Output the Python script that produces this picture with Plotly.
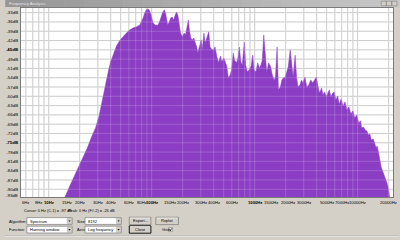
import math
import plotly.graph_objects as go

# ---------------- data ----------------
freq_hz = [13.0, 14.4, 16.2, 19.0, 21.1, 23.7, 26.3, 28.5, 30.7, 32.7,
           34.2, 36.2, 38.2, 39.9, 42.7, 45.6, 49.4, 53.2, 56.8, 60.7,
           66.2, 70.8, 76.8, 79.0, 82.6, 86.3, 89.2, 92.2, 95.3, 98.4,
           103, 107.6, 114.9, 120, 124, 128.2, 133, 137, 140, 143.2,
           148, 153, 158, 163.4, 169.5, 174.5, 180.3, 185.2, 190.6, 199,
           206.8, 212.9, 219.9, 227.3, 232.3, 240, 248, 256.5, 265.5, 274,
           280, 289.5, 302.5, 309.5, 321.5, 330.5, 345, 358.5, 369, 385.5,
           400, 412, 430.5, 446.5, 464.5, 480, 501, 518.5, 535.5, 556,
           578, 597, 620, 637, 666, 688, 710, 734, 758, 793,
           819, 846, 884, 923, 958, 986, 1030, 1069, 1112, 1149,
           1186, 1226, 1267, 1309, 1368, 1429, 1483, 1542, 1593, 1652,
           1702, 1778, 1837, 1898, 1985, 2051, 2119, 2214, 2286, 2364,
           2471, 2552, 2637, 2754, 2849, 2943, 3076, 3214, 3358, 3508,
           3665, 3829, 3973, 4131, 4272, 4463, 4613, 4766, 4979, 5143,
           5314, 5490, 5672, 5926, 6148, 6394, 6615, 6911, 7217, 7539,
           7876, 8228, 8596, 8980, 9381, 9799, 10237, 10695, 10918, 11406,
           11833, 12303, 12706, 13152, 13586, 14193, 14723, 15136, 15488, 15849,
           16444, 16904, 17665, 18357, 19093, 19727, 20463, 21040, 22050]

level_db = [-100, -92.5, -88.6, -83.8, -80.5, -76.7, -72.8, -70.2, -66.7, -62.1,
            -58.9, -54.7, -51.5, -48.9, -46.0, -43.7, -41.8, -40.5, -39.6, -38.7,
            -37.9, -37.6, -37.0, -36.0, -34.7, -32.8, -32.0, -31.8, -32.3, -33.7,
            -36.3, -37.0, -37.1, -35.7, -34.1, -32.8, -32.1, -33.4, -35.4, -37.0,
            -36.0, -34.7, -34.4, -35.4, -33.7, -32.8, -34.1, -36.3, -39.6, -40.8,
            -39.6, -40.2, -37.9, -35.4, -38.6, -41.2, -41.8, -41.2, -42.8, -44.1,
            -46.0, -44.1, -41.8, -45.0, -39.6, -42.8, -40.5, -39.2, -44.1, -45.0,
            -45.0, -44.1, -47.3, -49.2, -47.0, -48.9, -47.6, -48.9, -50.2, -54.1,
            -53.1, -51.5, -46.0, -48.3, -49.2, -47.6, -44.1, -48.9, -49.9, -42.5,
            -49.9, -52.1, -51.5, -50.2, -46.7, -51.5, -52.1, -49.2, -50.9, -49.9,
            -48.3, -40.2, -47.6, -52.1, -49.2, -50.5, -53.1, -54.7, -53.8, -44.1,
            -57.9, -57.0, -54.7, -54.1, -53.8, -52.1, -50.5, -45.0, -49.2, -53.8,
            -46.7, -53.8, -57.0, -56.3, -54.7, -55.7, -53.8, -57.0, -56.3, -54.7,
            -55.7, -54.4, -53.8, -57.0, -58.9, -57.3, -59.6, -58.6, -60.2, -58.9,
            -57.9, -60.2, -59.2, -58.6, -61.2, -59.9, -62.5, -60.9, -63.1, -61.8,
            -64.4, -63.4, -65.7, -64.7, -67.0, -66.0, -68.6, -67.9, -70.2, -69.9,
            -70.9, -71.2, -72.5, -72.2, -74.1, -73.8, -75.1, -76.7, -76.0, -78.3,
            -80.5, -82.8, -84.4, -86.0, -87.6, -89.3, -92.5, -98, -110]

y_tick_db = [-33, -36, -39, -42, -45, -48, -51, -54, -57, -60,
             -63, -66, -69, -72, -75, -78, -81, -84, -87, -90]
y_tick_text = ["-33dB", "-36dB", "-39dB", "-42dB", "<b>-45dB</b>", "-48dB", "-51dB",
               "-54dB", "-57dB", "-60dB", "-63dB", "-66dB", "-69dB", "-72dB",
               "<b>-75dB</b>", "-78dB", "-81dB", "-84dB", "-87dB", "-90dB"]

x_tick_hz = [6, 8, 10, 15, 20, 30, 40, 60, 80, 100, 150, 200, 300, 400, 600,
             1000, 1500, 2000, 3000, 5000, 7000, 10000, 20000]
x_tick_text = ["6Hz", "8Hz", "<b>10Hz</b>", "15Hz", "20Hz", "30Hz", "40Hz", "60Hz",
               "80Hz", "<b>100Hz</b>", "150Hz", "200Hz", "300Hz", "400Hz", "600Hz",
               "<b>1000Hz</b>", "1500Hz", "2000Hz", "3000Hz", "5000Hz", "7000Hz",
               "10000Hz", "20000Hz"]

grid_hz = [6, 7, 8, 9, 10, 20, 30, 40, 50, 60, 70, 80, 90, 100, 200, 300, 400, 500,
           600, 700, 800, 900, 1000, 2000, 3000, 4000, 5000, 6000, 7000, 8000, 9000,
           10000, 20000]

f_min, f_max = 5.383, 22050
db_lo, db_hi = -92.5, -31.5
floor_db = -200

# ---------------- figure ----------------
FONT = "Liberation Sans"
W, H = 400, 240
ML, MR, MT, MB = 16, 6, 8, 43
PW, PH = W - ML - MR, H - MT - MB


def px(x):
    return (x - ML) / PW


def py(y):
    return (H - MB - y) / PH


def grid_xy(hz_list, db_list):
    gx, gy = [], []
    for h in hz_list:
        gx += [h, h, None]
        gy += [floor_db, 0, None]
    for d in db_list:
        gx += [1, 30000, None]
        gy += [d, d, None]
    return gx, gy


gx, gy = grid_xy(grid_hz, y_tick_db)

fig = go.Figure()
fig.add_trace(go.Scatter(x=gx, y=gy, mode="lines", line=dict(color="#c4c4c4", width=1),
                         hoverinfo="skip", showlegend=False))
fig.add_trace(go.Scatter(x=[f_min, f_max], y=[floor_db, floor_db], mode="lines",
                         line=dict(width=0), hoverinfo="skip", showlegend=False))
fig.add_trace(go.Scatter(x=freq_hz, y=level_db, mode="lines", fill="tonexty",
                         fillcolor="rgb(139,61,196)", line=dict(color="rgb(139,61,196)", width=0.5),
                         showlegend=False))
fig.add_trace(go.Scatter(x=gx, y=gy, mode="lines",
                         line=dict(color="rgba(255,255,255,0.18)", width=1),
                         hoverinfo="skip", showlegend=False))

shapes = []
ann = []


def rect(x0, y0, x1, y1, fill, line="#808080", lw=0.8):
    shapes.append(dict(type="rect", xref="paper", yref="paper", x0=px(x0), x1=px(x1),
                       y0=py(y1), y1=py(y0), fillcolor=fill,
                       line=dict(color=line, width=lw), layer="above"))


def hline(x0, x1, y, color, lw=1):
    shapes.append(dict(type="line", xref="paper", yref="paper", x0=px(x0), x1=px(x1),
                       y0=py(y), y1=py(y), line=dict(color=color, width=lw), layer="above"))


def text(x, y, s, size=4.3, color="#000000", anchor="left"):
    ann.append(dict(xref="paper", yref="paper", x=px(x), y=py(y), text=s, showarrow=False,
                    xanchor=anchor, yanchor="middle",
                    font=dict(family=FONT, size=size, color=color)))


# x-axis labels (as annotations on the log axis so crowded pairs can be nudged apart)
label_nudge = {1500: -2, 2000: 2}
for hz, lab in zip(x_tick_hz, x_tick_text):
    ann.append(dict(xref="x", yref="paper", x=math.log10(hz), y=py(203), text=lab,
                    showarrow=False, xanchor="center", yanchor="middle",
                    xshift=label_nudge.get(hz, 0),
                    font=dict(family=FONT, size=4.2, color="#000000")))

# title bar (gradient strips)
n = 20
for i in range(n):
    c = int(150 + (198 - 150) * i / (n - 1))
    rect(W * i / n, 0, W * (i + 1) / n + 0.5, 7, f"rgb({c},{c},{c})", line=f"rgb({c},{c},{c})", lw=0)
text(2, 3.4, "Frequency Analysis", size=4.2, color="#e4e4e4")
for bx in (382, 387.5, 393):
    rect(bx, 1.2, bx + 5, 5.8, "#d4d0c8", line="#707070", lw=0.5)

# status line
text(17, 210.5, "Cursor: 0 Hz (C-1) = -97 dB", size=3.9)
text(62, 210.5, "Peak: 0 Hz (F#-2) = -26 dB", size=3.9)


def dropdown(x0, x1, y0, y1, s):
    rect(x0, y0, x1, y1, "#ffffff", line="#7a7a7a", lw=0.7)
    rect(x1 - 5, y0 + 0.6, x1 - 0.6, y1 - 0.6, "#d4d0c8", line="#9a9a9a", lw=0.4)
    cx, cy = x1 - 2.8, (y0 + y1) / 2
    shapes.append(dict(type="path", xref="paper", yref="paper",
                       path=f"M {px(cx-1.2)} {py(cy-0.6)} L {px(cx+1.2)} {py(cy-0.6)} L {px(cx)} {py(cy+0.8)} Z",
                       fillcolor="#000000", line=dict(width=0), layer="above"))
    text(x0 + 1.2, (y0 + y1) / 2, s, size=4.0)


def button(x0, x1, y0, y1, s, default=False):
    rect(x0, y0, x1, y1, "#d4d0c8", line="#000000" if default else "#6a6a6a",
         lw=0.9 if default else 0.6)
    hline(x0 + 0.8, x1 - 0.8, y0 + 0.8, "#ffffff", 0.6)
    text((x0 + x1) / 2, (y0 + y1) / 2, s, size=4.0, anchor="center")


# row 1
text(2, 221, "Algorithm:", size=3.9)
dropdown(22, 68, 217.6, 224.4, "Spectrum")
text(71, 221, "Size:", size=3.9)
dropdown(81, 118, 217.6, 224.4, "8192")
button(126, 148, 217.2, 224.6, "Export...")
button(153, 176, 217.2, 224.6, "Replot")

# row 2
text(2, 229.5, "Function:", size=3.9)
dropdown(22, 68, 226.2, 233.0, "Hanning window")
text(71, 229.5, "Axis:", size=3.9)
dropdown(81, 118, 226.2, 233.0, "Log frequency")
button(126, 148, 225.8, 233.2, "Close", default=True)
text(157, 229.5, "Grids", size=3.9)
rect(166, 227.6, 170, 231.6, "#ffffff", line="#6a6a6a", lw=0.5)
shapes.append(dict(type="path", xref="paper", yref="paper",
                   path=f"M {px(166.8)} {py(229.5)} L {px(167.8)} {py(230.8)} L {px(169.3)} {py(228.3)}",
                   line=dict(color="#000000", width=0.7), layer="above"))

hline(0, 400, 235.5, "#a8a8a8", 0.8)
hline(0, 400, 236.2, "#ffffff", 0.6)

# extra bottom label at plot floor
text(15, 195.3, "-93dB", size=4.4, anchor="right")

fig.update_layout(
    width=W, height=H,
    margin=dict(l=ML, r=MR, t=MT, b=MB, pad=0),
    paper_bgcolor="#d4d0c8", plot_bgcolor="#ffffff",
    shapes=shapes, annotations=ann,
    font=dict(family=FONT, size=4.4, color="#000000"),
    xaxis=dict(type="log", range=[math.log10(f_min), math.log10(f_max)],
               showgrid=False, zeroline=False, showline=True, mirror=True,
               linecolor="#7a7a7a", linewidth=1, ticks="", showticklabels=False,
               fixedrange=True),
    yaxis=dict(range=[db_lo, db_hi], showgrid=False, zeroline=False, showline=True,
               mirror=True, linecolor="#7a7a7a", linewidth=1, ticks="",
               tickmode="array", tickvals=y_tick_db, ticktext=y_tick_text,
               tickfont=dict(family=FONT, size=4.4, color="#000000"),
               ticklabelstandoff=1, fixedrange=True),
)

fig.write_html("out.html")
